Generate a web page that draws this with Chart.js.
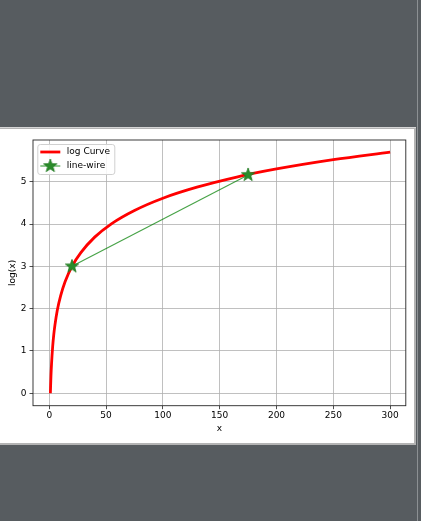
<!DOCTYPE html>
<html><head><meta charset="utf-8">
<script src="https://cdn.jsdelivr.net/npm/chart.js@4/dist/chart.umd.min.js"></script>
<style>
html,body{margin:0;padding:0;width:421px;height:521px;overflow:hidden;background:#575c60;}
#frame{position:absolute;left:-3px;top:127px;width:419px;height:318px;background:#b4b4b4;border-top:1px solid #d6d6d6;box-sizing:border-box;}
#panel{position:absolute;left:0;top:129px;width:414px;height:314px;background:#fff;}
#vline{position:absolute;left:417px;top:0;width:1px;height:521px;background:#8c9093;}
canvas{display:block;}
</style>
</head><body>
<div id="vline"></div>
<div id="frame"></div>
<div id="panel"><canvas id="c" width="414" height="314"></canvas></div>
<script>
// ---- data ----
const curveX = [1, 1.5, 2, 3, 4, 5, 7, 10, 14, 20, 28, 40, 55, 75, 100, 130, 165, 200, 250, 300];
const curveY = [0, 0.41, 0.69, 1.10, 1.39, 1.61, 1.95, 2.30, 2.64, 3.00, 3.33, 3.69, 4.01, 4.32, 4.61, 4.87, 5.11, 5.30, 5.52, 5.70];
const wireX = [20, 175];
const wireY = [3.00, 5.16];
const xTicks = [0, 50, 100, 150, 200, 250, 300];
const yTicks = [0, 1, 2, 3, 4, 5];
const seriesLabels = ['log Curve', 'line-wire'];
const xLabel = 'x';
const yLabel = 'log(x)';

const FONT = "'DejaVu Sans', sans-serif";
const RED = '#ff0000';
const GREEN_LINE = 'rgba(0,128,0,0.72)';
const GREEN_STAR = '#2a8c2a';

function makeStar(r, fill, stroke) {
  const s = Math.ceil(r * 2 + 2);
  const c = document.createElement('canvas');
  c.width = s; c.height = s;
  const g = c.getContext('2d');
  const cx = s / 2, cy = s / 2, ri = r * 0.4;
  g.beginPath();
  for (let i = 0; i < 10; i++) {
    const rr = i % 2 === 0 ? r : ri;
    const a = -Math.PI / 2 + i * Math.PI / 5;
    const px = cx + rr * Math.cos(a), py = cy + rr * Math.sin(a);
    if (i === 0) g.moveTo(px, py); else g.lineTo(px, py);
  }
  g.closePath();
  g.fillStyle = fill; g.fill();
  g.lineWidth = 0.8; g.strokeStyle = stroke; g.stroke();
  return c;
}
const star = makeStar(7, GREEN_STAR, '#1f7a1f');
const legendStar = makeStar(7, GREEN_STAR, '#1f7a1f');

const framePlugin = {
  id: 'frame',
  afterDatasetsDraw(chart) {
    const a = chart.chartArea, ctx = chart.ctx;
    ctx.save();
    ctx.strokeStyle = '#262626';
    ctx.lineWidth = 0.9;
    ctx.strokeRect(a.left, a.top, a.right - a.left, a.bottom - a.top);
    ctx.restore();
  },
  afterDraw(chart) {
    const a = chart.chartArea, ctx = chart.ctx;
    const bx = a.left + 4.3, by = a.top + 4, bw = 77, bh = 30;
    ctx.save();
    ctx.beginPath();
    if (ctx.roundRect) ctx.roundRect(bx + 0.5, by + 0.5, bw, bh, 2.5); else ctx.rect(bx + 0.5, by + 0.5, bw, bh);
    ctx.fillStyle = 'rgba(255,255,255,0.85)';
    ctx.fill();
    ctx.strokeStyle = '#d0d0d0';
    ctx.lineWidth = 1;
    ctx.stroke();
    const ds = chart.data.datasets;
    const rows = [ds.find(d => d.label === seriesLabels[0]), ds.find(d => d.label === seriesLabels[1])];
    const lx0 = bx + 3, lx1 = bx + 23, tx = bx + 29.5;
    rows.forEach((d, i) => {
      const y = by + 8 + i * 14;
      ctx.beginPath();
      ctx.moveTo(lx0, y); ctx.lineTo(lx1, y);
      ctx.strokeStyle = d.borderColor;
      ctx.lineWidth = d.borderWidth;
      ctx.stroke();
      if (i === 1) ctx.drawImage(legendStar, (lx0 + lx1) / 2 - legendStar.width / 2, y - legendStar.height / 2);
      ctx.fillStyle = '#000';
      ctx.font = '9px ' + FONT;
      ctx.textBaseline = 'middle';
      ctx.textAlign = 'left';
      ctx.fillText(d.label, tx, y);
    });
    ctx.restore();
  }
};

const toPts = (xs, ys) => xs.map((x, i) => ({x: x, y: ys[i]}));

new Chart(document.getElementById('c'), {
  type: 'line',
  data: {
    datasets: [
      {
        label: seriesLabels[1],
        data: toPts(wireX, wireY),
        borderColor: GREEN_LINE,
        borderWidth: 1.2,
        pointStyle: star,
        pointRadius: 7,
        pointHoverRadius: 7,
        order: 1,
        tension: 0
      },
      {
        label: seriesLabels[0],
        data: toPts(curveX, curveY),
        borderColor: RED,
        borderWidth: 2.8,
        pointRadius: 0,
        cubicInterpolationMode: 'monotone',
        order: 2
      }
    ]
  },
  options: {
    responsive: false,
    animation: false,
    events: [],
    layout: {padding: {left: 0, top: 11, right: 8, bottom: 0}},
    plugins: {legend: {display: false}, tooltip: {enabled: false}},
    scales: {
      x: {
        type: 'linear',
        min: -14.3,
        max: 313.8,
        afterBuildTicks: s => { s.ticks = xTicks.map(v => ({value: v})); },
        afterFit: s => { s.height = 37.3; },
        grid: {color: '#b0b0b0', lineWidth: 0.8, tickColor: '#222', tickLength: 3.5, drawTicks: true},
        border: {display: false},
        ticks: {color: '#000', font: {family: FONT, size: 9}, padding: 1, maxRotation: 0, autoSkip: false},
        title: {display: true, text: xLabel, color: '#000', font: {family: FONT, size: 9}, padding: {top: 0, bottom: 8.6}}
      },
      y: {
        type: 'linear',
        min: -0.293,
        max: 5.985,
        afterBuildTicks: s => { s.ticks = yTicks.map(v => ({value: v})); },
        afterFit: s => { s.width = 33; },
        grid: {color: '#b0b0b0', lineWidth: 0.8, tickColor: '#222', tickLength: 3.5, drawTicks: true},
        border: {display: false},
        ticks: {color: '#000', font: {family: FONT, size: 9}, padding: 3, autoSkip: false},
        title: {display: true, text: yLabel, color: '#000', font: {family: FONT, size: 9}, padding: {top: 7, bottom: 0}}
      }
    }
  },
  plugins: [framePlugin]
});
</script>
</body></html>
